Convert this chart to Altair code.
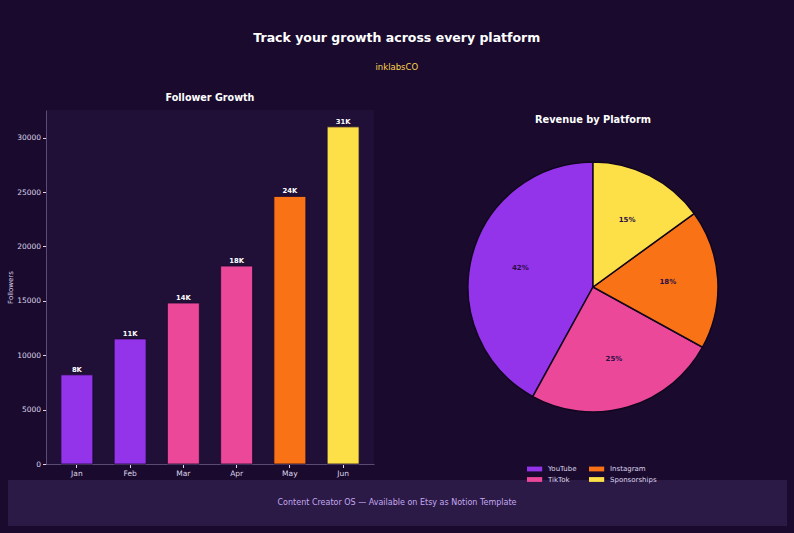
import altair as alt
import pandas as pd

FONT = "DejaVu Sans"
BG = "#1a0b2e"
PLOT_BG = "#200f37"
FOOTER_BG = "#2b1a45"
TEXT_LIGHT = "#ddd3ea"
DOMAIN = "#5b4a73"

# ---- data ----
months = ["Jan", "Feb", "Mar", "Apr", "May", "Jun"]
followers = [8200, 11500, 14800, 18200, 24600, 31000]
follower_labels = ["8K", "11K", "14K", "18K", "24K", "31K"]
bar_colors = ["#9333ea", "#9333ea", "#ec4899", "#ec4899", "#f97316", "#fde047"]
y_ticks = [0, 5000, 10000, 15000, 20000, 25000, 30000]

platforms = ["YouTube", "TikTok", "Instagram", "Sponsorships"]
revenue_share = [42, 25, 18, 15]
revenue_labels = ["42%", "25%", "18%", "15%"]
platform_colors = ["#9333ea", "#ec4899", "#f97316", "#fde047"]
legend_order = ["YouTube", "Instagram", "TikTok", "Sponsorships"]

title_text = "Track your growth across every platform"
subtitle_text = "inklabsCO"
bar_title = "Follower Growth"
pie_title = "Revenue by Platform"
footer_text = "Content Creator OS \u2014 Available on Etsy as Notion Template"

# ---- bar chart ----
bar_df = pd.DataFrame({"month": months, "followers": followers,
                       "label": follower_labels, "color": bar_colors})

x_enc = alt.X("month:N", sort=months,
              scale=alt.Scale(paddingInner=0.4, paddingOuter=0.28),
              axis=alt.Axis(title=None, labelAngle=0, labelFontSize=7.5,
                            labelColor=TEXT_LIGHT, tickColor=TEXT_LIGHT,
                            tickSize=3.5, labelPadding=2, domainColor=DOMAIN,
                            labelFont=FONT))
y_enc = alt.Y("followers:Q",
              scale=alt.Scale(domain=[0, 32550], nice=False),
              axis=alt.Axis(title="Followers", values=y_ticks, grid=False,
                            format="d",
                            labelFontSize=7.5, labelColor=TEXT_LIGHT,
                            tickColor=TEXT_LIGHT, tickSize=3.5, labelPadding=2,
                            domainColor=DOMAIN, titleFontSize=7,
                            titleColor=TEXT_LIGHT, titleFontWeight="normal",
                            titlePadding=3, labelFont=FONT, titleFont=FONT))

bars = alt.Chart(bar_df).mark_bar(stroke=BG, strokeWidth=0.8).encode(
    x=x_enc, y=y_enc, color=alt.Color("color:N", scale=None))
bar_text = alt.Chart(bar_df).mark_text(
    baseline="bottom", dy=-2, fontSize=6.8, fontWeight="bold",
    color="white", font=FONT).encode(x=x_enc, y=y_enc, text="label:N")

# ---- footer (drawn as decoration below the bar panel, spanning the page) ----
footer_df = pd.DataFrame({"t": [footer_text]})
frect = alt.Chart(footer_df).mark_rect(color=FOOTER_BG).encode(
    x=alt.value(-38), x2=alt.value(741), y=alt.value(370), y2=alt.value(416))
ftext = alt.Chart(footer_df).mark_text(
    fontSize=8, color="#c4a8f0", font=FONT).encode(
    text="t:N", x=alt.value(351), y=alt.value(393))

bar_chart = alt.layer(frect, ftext, bars, bar_text).properties(
    width=328, height=354,
    title=alt.TitleParams(bar_title, fontSize=9.6, fontWeight="bold",
                          color="white", font=FONT, offset=7),
    view=alt.ViewBackground(fill=PLOT_BG, stroke=None))

# ---- pie chart ----
pie_df = pd.DataFrame({"platform": platforms, "share": revenue_share,
                       "label": revenue_labels, "idx": list(range(len(platforms)))})
color_map = dict(zip(platforms, platform_colors))

pie_color = alt.Color(
    "platform:N",
    scale=alt.Scale(domain=legend_order, range=[color_map[p] for p in legend_order]),
    legend=alt.Legend(title=None, orient="none", legendX=114.6, legendY=355,
                      columns=2, direction="horizontal", padding=0,
                      symbolType="M-1.9,-0.6H1.9V0.6H-1.9Z", symbolSize=64,
                      symbolStrokeWidth=0, labelOffset=9.4, columnPadding=12,
                      rowPadding=3.5, labelFontSize=7, labelColor=TEXT_LIGHT,
                      labelFont=FONT))

base = alt.Chart(pie_df).encode(
    theta=alt.Theta("share:Q", stack=True),
    order=alt.Order("idx:Q", sort="descending"))
arcs = base.mark_arc(outerRadius=125, stroke="#12061f", strokeWidth=1.5).encode(color=pie_color)
arc_text = base.mark_text(radius=75, fontSize=7, fontWeight="bold",
                          color="#2a0f45", font=FONT).encode(text="label:N")
ptitle = alt.Chart(pd.DataFrame({"t": [pie_title]})).mark_text(
    fontSize=9.8, fontWeight="bold", color="white", font=FONT).encode(
    text="t:N", x=alt.value(177), y=alt.value(10))

pie_chart = alt.layer(arcs, arc_text, ptitle).properties(
    width=354, height=354, view=alt.ViewBackground(stroke=None))

chart = alt.hconcat(bar_chart, pie_chart, spacing=42, bounds="flush").resolve_scale(
    color="independent").resolve_legend(color="independent").properties(
    title=alt.TitleParams(title_text, subtitle=subtitle_text, anchor="middle",
                          fontSize=12.5, fontWeight="bold", color="white",
                          font=FONT, subtitleFont=FONT, subtitleFontSize=8.5,
                          subtitleColor="#fcd34d", subtitlePadding=18.3, offset=22),
    background=BG,
    padding={"left": 6, "right": 7, "top": 32, "bottom": 7},
).configure(font=FONT).configure_view(stroke=None)

chart.save("out.html", embed_options={"renderer": "svg", "actions": False})
